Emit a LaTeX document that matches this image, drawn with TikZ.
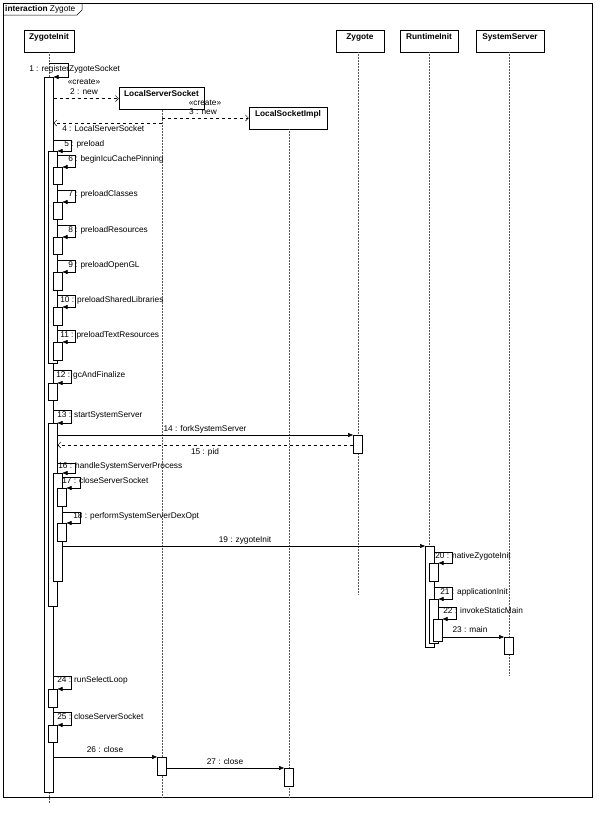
\documentclass[tikz,border=0pt]{standalone}
\usepackage{fontspec}
\setmainfont{Liberation Sans}
\usetikzlibrary{arrows.meta}
\begin{document}
\begin{tikzpicture}[x=1pt,y=-1pt,line width=0.5pt,
  lbl/.style={font=\fontsize{8.3}{9}\selectfont,inner sep=0pt,anchor=west},
  clbl/.style={font=\fontsize{8.3}{9}\selectfont,inner sep=0pt},
  head/.style={draw,fill=white,font=\fontsize{8.3}{9}\selectfont\bfseries,text height=7pt,text depth=11pt,inner ysep=2pt,inner xsep=0pt},
  actbar/.style={draw,fill=white,minimum width=9pt,inner sep=0pt,anchor=north west},
  life/.style={densely dotted,gray!70!black},
  msg/.style={-{Triangle[length=5pt,width=4pt]}},
  ret/.style={dashed,-{Straight Barb[length=3pt,width=6pt]}}]
\useasboundingbox (0,0) rectangle (600,831);
\newcommand\actbox[4]{\node[actbar,minimum height={#4pt-#3pt}] (#1) at (#2,#3) {};}
\newcommand\selfloop[4]{\draw[msg] (#1.east |- 0,#2) -- ++(18,0) |- (#3.north east);}
% frame
\draw (3,3) rectangle (592,797);
\draw (3,15) -- (77,15) -- (82,10) -- (82,3);
\node[lbl] (ftitle) at (5,9) {\textbf{interaction} Zygote};
% heads
\node[head,minimum width=50pt] (zi) at (49,41) {ZygoteInit};
\node[head,minimum width=48pt] (zy) at (360,41) {Zygote};
\node[head,minimum width=58pt] (ri) at (429,41) {RuntimeInit};
\node[head,minimum width=68pt] (ss) at (510,41) {SystemServer};
\node[head,minimum width=85pt] (lss) at (161.5,98.5) {LocalServerSocket};
\node[head,minimum width=78pt] (lsi) at (288,118) {LocalSocketImpl};
% lifelines
\coordinate (zie) at (49,803); \coordinate (lsse) at (162,797); \coordinate (lsie) at (289,797);
\coordinate (zye) at (358,595); \coordinate (rie) at (429,642); \coordinate (sse) at (509,676);
\draw[life] (zi.south) -- (zie);
\draw[life] (lss.south -| lsse) -- (lsse);
\draw[life] (lsi.south -| lsie) -- (lsie);
\draw[life] (zy.south -| zye) -- (zye);
\draw[life] (ri.south) -- (rie);
\draw[life] (ss.south -| sse) -- (sse);
% bars
\actbox{main}{44}{77}{792}
\actbox{b5}{48}{151}{363}
\actbox{b6}{53}{167}{184}
\actbox{b7}{53}{202}{219}
\actbox{b8}{53}{237}{254}
\actbox{b9}{53}{272}{290}
\actbox{b10}{53}{307}{325}
\actbox{b11}{53}{342}{360}
\actbox{b12}{48}{383}{400}
\actbox{b13}{48}{423}{606}
\actbox{zb}{353}{435}{453}
\actbox{b16}{53}{473}{581}
\actbox{b17}{57}{488}{506}
\actbox{b18}{57}{523}{541}
\actbox{rb}{425}{546}{647}
\actbox{b20}{429}{563}{581}
\actbox{b21}{429}{599}{643}
\actbox{b22}{433}{619}{641}
\actbox{sb}{504}{637}{654}
\actbox{b24}{48}{689}{707}
\actbox{b25}{48}{725}{742}
\actbox{lb}{157}{757}{775}
\actbox{ib}{284}{768}{786}
% self messages
\draw[msg] (zi.south |- 0,63) -- ++(19,0) |- (main.north east);
\selfloop{main}{140}{b5}{}
\selfloop{b5}{155}{b6}{}
\selfloop{b5}{190}{b7}{}
\selfloop{b5}{225}{b8}{}
\selfloop{b5}{260}{b9}{}
\selfloop{b5}{295}{b10}{}
\selfloop{b5}{330}{b11}{}
\selfloop{main}{370}{b12}{}
\selfloop{main}{410}{b13}{}
\selfloop{b13}{463}{b16}{}
\selfloop{b16}{477}{b17}{}
\selfloop{b16}{512}{b18}{}
\selfloop{rb}{552}{b20}{}
\selfloop{rb}{587}{b21}{}
\selfloop{b21}{607}{b22}{}
\selfloop{main}{676}{b24}{}
\selfloop{main}{712}{b25}{}
% self labels
\node[lbl] (l1) at (29,69) {1 : registerZygoteSocket};
\node[lbl] (l5) at (64,144) {5 : preload};
\node[lbl] (l6) at (68,159) {6 : beginIcuCachePinning};
\node[lbl] (l7) at (68,194) {7 : preloadClasses};
\node[lbl] (l8) at (68,230) {8 : preloadResources};
\node[lbl] (l9) at (68,265) {9 : preloadOpenGL};
\node[lbl] (l10) at (60,300) {10 : preloadSharedLibraries};
\node[lbl] (l11) at (60,335) {11 : preloadTextResources};
\node[lbl] (l12) at (56,375) {12 : gcAndFinalize};
\node[lbl] (l13) at (57,415) {13 : startSystemServer};
\node[lbl] (l16) at (58,466) {16 : handleSystemServerProcess};
\node[lbl] (l17) at (62,481) {17 : closeServerSocket};
\node[lbl] (l18) at (73,516) {18 : performSystemServerDexOpt};
\node[lbl] (l20) at (435,556) {20 : nativeZygoteInit};
\node[lbl] (l21) at (440,592) {21 : applicationInit};
\node[lbl] (l22) at (443,611) {22 : invokeStaticMain};
\node[lbl] (l24) at (57,680) {24 : runSelectLoop};
\node[lbl] (l25) at (57,717) {25 : closeServerSocket};
% create / return messages
\draw[ret] (main.east |- lss.west) -- (lss.west);
\node[clbl] (c2a) at (84,82) {«create»};
\node[clbl] (c2b) at (84,92) {2 : new};
\draw[ret] (lsse |- lsi.west) -- (lsi.west);
\node[clbl] (c3a) at (205,103) {«create»};
\node[clbl] (c3b) at (203,112) {3 : new};
\coordinate (r4) at (162,123);
\draw[ret] (r4) -- (main.east |- r4);
\node[lbl] (l4) at (62,129) {4 : LocalServerSocket};
% calls
\draw[msg] (b13.east |- zb.north) -- (zb.north west);
\node[clbl] (l14) at (205,429) {14 : forkSystemServer};
\coordinate (r15) at (353,445);
\draw[ret] (r15) -- (b13.east |- r15);
\node[clbl] (l15) at (205,452) {15 : pid};
\draw[msg] (b16.east |- rb.north) -- (rb.north west);
\node[clbl] (l19) at (245,540) {19 : zygoteInit};
\draw[msg] (b22.east |- sb.north) -- (sb.north west);
\node[clbl] (l23) at (470,630) {23 : main};
\draw[msg] (main.east |- lb.north) -- (lb.north west);
\node[clbl] (l26) at (105,750) {26 : close};
\draw[msg] (lb.east |- ib.north) -- (ib.north west);
\node[clbl] (l27) at (225,762) {27 : close};
\end{tikzpicture}
\end{document}
